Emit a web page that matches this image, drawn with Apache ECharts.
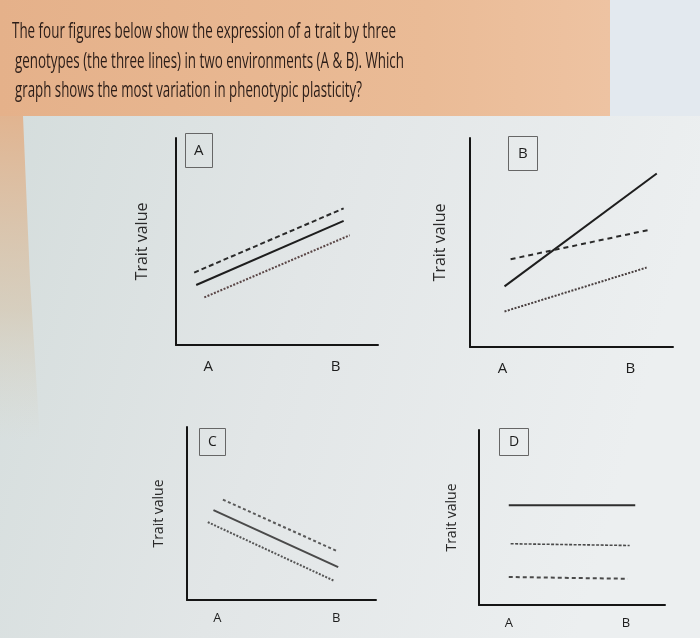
<!DOCTYPE html>
<html>
<head>
<meta charset="utf-8">
<script src="https://cdn.jsdelivr.net/npm/echarts@6/dist/echarts.min.js"></script>
<style>
html,body{margin:0;padding:0;background:#e4e8e9;}
#chart{width:700px;height:638px;}
</style>
</head>
<body>
<div id="chart"></div>
<script>
// ---- text ----
const questionLines = [
  'The four figures below show the expression of a trait by three',
  'genotypes (the three lines) in two environments (A & B). Which',
  'graph shows the most variation in phenotypic plasticity?'
];
const panelNames = ['A', 'B', 'C', 'D'];
const yAxisTitle = 'Trait value';
const envTicks = [1.6, 7.9];      // positions of environment labels on x axis
const envLabels = ['A', 'B'];

// ---- data: each line = [[x at env A side, y], [x at env B side, y]] ----
const panelA_solid  = [[1.0, 2.9], [8.3, 6.0]];
const panelA_dashed = [[0.9, 3.5], [8.3, 6.6]];
const panelA_dotted = [[1.4, 2.3], [8.6, 5.3]];

const panelB_solid  = [[1.7, 2.9], [9.2, 8.3]];
const panelB_dashed = [[2.0, 4.2], [8.8, 5.6]];
const panelB_dotted = [[1.7, 1.7], [8.7, 3.8]];

const panelC_solid  = [[1.4, 5.2], [8.0, 1.9]];
const panelC_dashed = [[1.9, 5.8], [8.0, 2.8]];
const panelC_dotted = [[1.1, 4.5], [7.8, 1.1]];

const panelD_solid  = [[1.6, 5.7], [8.4, 5.7]];
const panelD_dotted = [[1.7, 3.5], [8.1, 3.4]];
const panelD_dashed = [[1.6, 1.6], [8.0, 1.5]];

// ---- layout ----
const grids = [
  {left: 176, top: 138, width: 202, height: 207},
  {left: 470, top: 138, width: 203, height: 209},
  {left: 187, top: 427, width: 189, height: 173},
  {left: 479, top: 430, width: 186, height: 175}
];
const boxes = [
  {left: 185, top: 133, pad: [10, 9], size: 15},
  {left: 508, top: 136, pad: [10, 10], size: 15},
  {left: 199, top: 428, pad: [7, 9], size: 14},
  {left: 499, top: 428, pad: [7, 10], size: 14}
];
const nameGaps = [26, 22, 21, 20];
const nameSizes = [16, 16, 14, 14];
const labelSizes = [15, 15, 13, 13];
const labelMargins = [14, 14, 12, 12];

const chart = echarts.init(document.getElementById('chart'), null, {renderer: 'canvas'});

const FONT = '"Open Sans", "Noto Sans", sans-serif';
function measure(text, size) {
  const c = document.createElement('canvas').getContext('2d');
  c.font = size + 'px ' + FONT;
  return c.measureText(text).width;
}
const qTargets = [{x: 12, y: 32, w: 384}, {x: 15, y: 62, w: 389}, {x: 15, y: 91, w: 347}];
const qSize = 22;

const graphics = [
  {type: 'rect', z: -10, shape: {x: 0, y: 0, width: 610, height: 116},
   style: {fill: {type: 'linear', x: 0, y: 0, x2: 1, y2: 0,
     colorStops: [{offset: 0, color: '#e5b18a'}, {offset: 0.7, color: '#eabb96'}, {offset: 1, color: '#eec3a2'}]}}},
  {type: 'rect', z: -10, shape: {x: 610, y: 0, width: 90, height: 116},
   style: {fill: '#e3e9ef'}},
  {type: 'polygon', z: -10, shape: {points: [[0, 116], [23, 116], [30, 280], [40, 440], [0, 440]]},
   style: {fill: {type: 'linear', x: 0, y: 0, x2: 0, y2: 1,
     colorStops: [{offset: 0, color: 'rgba(226,178,140,0.95)'}, {offset: 0.6, color: 'rgba(214,196,170,0.6)'}, {offset: 1, color: 'rgba(214,210,195,0)'}]}}}
];
questionLines.forEach((t, i) => {
  const w = measure(t, qSize);
  graphics.push({
    type: 'text', z: 10, x: qTargets[i].x, y: qTargets[i].y,
    scaleX: qTargets[i].w / w,
    style: {text: t, font: qSize + 'px ' + FONT, fill: '#2b1d18', verticalAlign: 'middle', align: 'left'}
  });
});

const panelSeries = [
  [panelA_solid, panelA_dashed, panelA_dotted],
  [panelB_solid, panelB_dashed, panelB_dotted],
  [panelC_solid, panelC_dashed, panelC_dotted],
  [panelD_solid, panelD_dashed, panelD_dotted]
];
const styles = [
  [{type: 'solid', color: '#1e1e1e', width: 2}, {type: [5, 3], color: '#2a2a2a', width: 2}, {type: [2, 1.5], color: '#5a4646', width: 2}],
  [{type: 'solid', color: '#1e1e1e', width: 2}, {type: [5, 4], color: '#2a2a2a', width: 2}, {type: [2, 1.5], color: '#4a4040', width: 2}],
  [{type: 'solid', color: '#4a4a4a', width: 2}, {type: [3, 2.5], color: '#5a5a5a', width: 2}, {type: [2, 1.5], color: '#555555', width: 2}],
  [{type: 'solid', color: '#2e2e2e', width: 2}, {type: [4, 3], color: '#4a4a4a', width: 2}, {type: [3, 1.5], color: '#4a4a4a', width: 1.6}]
];
const seriesNames = ['Genotype 1', 'Genotype 2', 'Genotype 3'];

const xAxes = [], yAxes = [], series = [], titles = [];
grids.forEach((g, i) => {
  xAxes.push({
    type: 'value', gridIndex: i, min: 0, max: 10,
    axisLine: {show: true, lineStyle: {color: '#151515', width: 2}},
    axisTick: {show: false}, splitLine: {show: false},
    axisLabel: {
      show: true, customValues: envTicks, margin: labelMargins[i],
      formatter: v => envLabels[envTicks.indexOf(v)] || '',
      color: '#1e1e1e', fontSize: labelSizes[i], fontFamily: FONT
    }
  });
  yAxes.push({
    type: 'value', gridIndex: i, min: 0, max: 10,
    name: yAxisTitle, nameLocation: 'middle', nameRotate: 90, nameGap: nameGaps[i],
    nameTextStyle: {color: '#2a2a2a', fontSize: nameSizes[i], fontFamily: FONT},
    axisLine: {show: true, lineStyle: {color: '#151515', width: 2}},
    axisTick: {show: false}, splitLine: {show: false}, axisLabel: {show: false}
  });
  titles.push({
    text: panelNames[i], left: boxes[i].left, top: boxes[i].top,
    padding: boxes[i].pad, borderWidth: 1, borderColor: '#666',
    textStyle: {fontSize: boxes[i].size, fontWeight: 'normal', color: '#1e1e1e', fontFamily: FONT}
  });
  panelSeries[i].forEach((d, k) => {
    series.push({
      type: 'line', name: seriesNames[k], xAxisIndex: i, yAxisIndex: i,
      data: d, showSymbol: false, silent: true, animation: false,
      lineStyle: styles[i][k]
    });
  });
});

chart.setOption({
  animation: false,
  backgroundColor: {type: 'linear', x: 0, y: 0, x2: 1, y2: 0.3,
    colorStops: [{offset: 0, color: '#d3dcdb'}, {offset: 0.5, color: '#e2e6e7'}, {offset: 1, color: '#eceff0'}]},
  title: titles,
  grid: grids,
  xAxis: xAxes,
  yAxis: yAxes,
  series: series,
  graphic: graphics
});
</script>
</body>
</html>
